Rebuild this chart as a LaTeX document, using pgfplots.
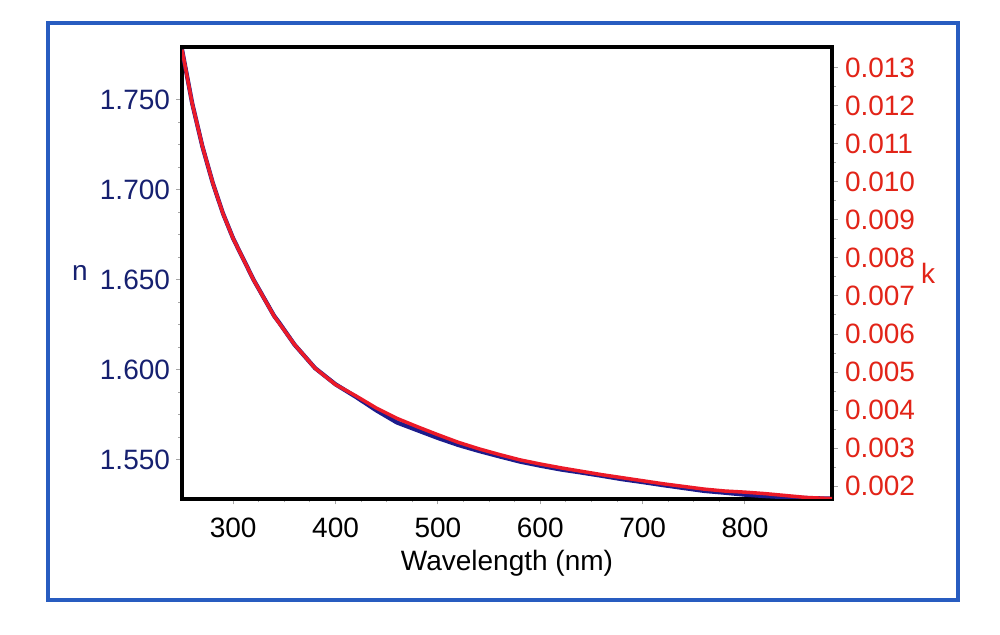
\documentclass[border=0pt]{standalone}
\usepackage{fontspec}
\setmainfont{Liberation Sans}
\usepackage{pgfplots}
\usepackage{pgfplotstable}
\pgfplotsset{compat=1.18}
\definecolor{nblue}{RGB}{22,32,112}
\definecolor{kred}{RGB}{226,36,24}
\definecolor{curveblue}{RGB}{28,28,140}
\definecolor{curvered}{RGB}{236,26,40}
\definecolor{frameblue}{RGB}{40,92,192}

\pgfplotstableread{
x n
250 1.7780
260 1.7480
270 1.7240
280 1.7040
290 1.6870
300 1.6730
320 1.6500
340 1.6300
345 1.6262
360 1.6140
380 1.6010
400 1.5920
420 1.5850
440 1.5775
460 1.5708
480 1.5665
500 1.5622
520 1.5583
540 1.5550
560 1.5520
580 1.5491
600 1.5468
620 1.5447
640 1.5430
660 1.5412
680 1.5393
700 1.5377
720 1.5360
740 1.5344
760 1.5328
780 1.5318
800 1.5307
820 1.5299
840 1.5293
860 1.5288
885 1.5285
}\ndata

\pgfplotstableread{
x k
250 0.01348
260 0.01206
270 0.01093
280 0.00998
290 0.00917
300 0.00851
320 0.00742
340 0.00647
360 0.00572
380 0.00510
400 0.00467
420 0.00437
440 0.00405
460 0.00378
480 0.00356
500 0.00335
520 0.00315
540 0.00298
560 0.00283
580 0.00269
600 0.00258
620 0.00248
640 0.00239
660 0.00230
680 0.00222
700 0.00214
720 0.00206
740 0.00199
760 0.00192
780 0.00187
800 0.00184
820 0.00180
840 0.00175
860 0.00170
885 0.00167
}\kdata

\begin{document}
\begin{tikzpicture}[font=\fontsize{11.2}{13.4}\selectfont]
\path[fill=white, use as bounding box] (0,0) rectangle (400pt,254pt);
\draw[line width=1.5pt, frameblue] (19.2pt,14pt) rectangle (383.2pt,244.8pt);

\begin{axis}[
  at={(72.8pt,54.4pt)}, anchor=south west, scale only axis,
  width=260pt, height=180.8pt,
  xmin=250, xmax=885, ymin=1.5283, ymax=1.7794,
  axis line style={line width=1.3pt, black},
  tick align=outside, major tick length=2.2pt, minor tick length=1.4pt,
  every tick/.style={gray!70, line width=0.4pt},
  xtick={300,400,500,600,700,800}, minor x tick num=3,
  ytick={1.55,1.60,1.65,1.70,1.75}, minor y tick num=3,
  xtick pos=lower, ytick pos=left,
  /pgf/number format/assume math mode=true,
  xticklabel style={anchor=north, inner sep=0pt, yshift=-5.2pt},
  yticklabel style={text=nblue, anchor=east, inner sep=0pt, xshift=-2.4pt,
    /pgf/number format/.cd, fixed, fixed zerofill, precision=3},
  xlabel={Wavelength (nm)},
  xlabel style={at={(axis description cs:0.5,0)}, anchor=base, inner sep=0pt, yshift=-28.8pt},
  ylabel={n},
  ylabel style={at={(axis description cs:0,0.5)}, rotate=-90, anchor=center, inner sep=0pt, xshift=-40.8pt, text=nblue},
]
\addplot[curveblue, line width=1.7pt, no markers] table[x=x, y=n] {\ndata};
\end{axis}

\begin{axis}[
  at={(72.8pt,54.4pt)}, anchor=south west, scale only axis,
  width=260pt, height=180.8pt,
  xmin=250, xmax=885, ymin=0.00166, ymax=0.01355,
  axis x line=none, axis y line*=right,
  y axis line style={-, line width=1.3pt, black},
  tick align=outside, major tick length=2.2pt, minor tick length=1.4pt,
  every tick/.style={gray!70, line width=0.4pt},
  ytick={0.002,0.003,0.004,0.005,0.006,0.007,0.008,0.009,0.010,0.011,0.012,0.013},
  minor y tick num=1, scaled y ticks=false,
  /pgf/number format/assume math mode=true,
  yticklabel style={text=kred, anchor=west, inner sep=0pt, xshift=2.8pt,
    /pgf/number format/.cd, fixed, fixed zerofill, precision=3},
  ylabel={k},
  ylabel style={at={(axis description cs:1,0.5)}, rotate=-90, anchor=center, inner sep=0pt, xshift=38.4pt, text=kred},
]
\addplot[curvered, line width=1.4pt, no markers] table[x=x, y=k] {\kdata};
\end{axis}
\end{tikzpicture}
\end{document}
